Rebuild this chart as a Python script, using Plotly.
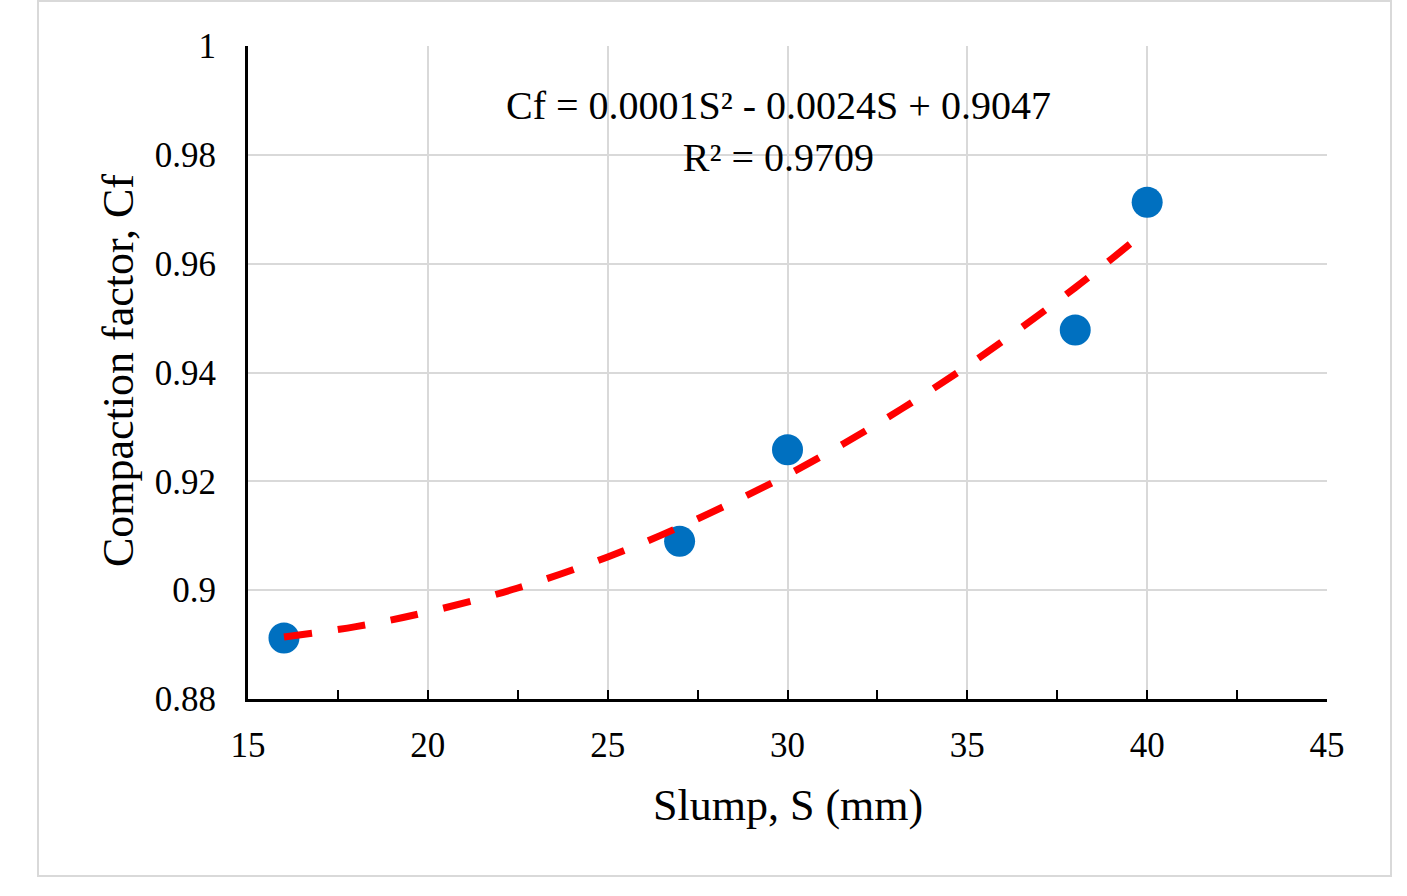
import plotly.graph_objects as go

slump = [16, 27, 30, 38, 40]
cf = [0.8912, 0.9090, 0.9258, 0.9478, 0.9713]

# Trendline values
trend_s = [16, 18, 20, 22.5, 25, 27, 30, 32.5, 35, 38, 40]
trend_cf = [0.8914, 0.8933, 0.8960, 0.9004, 0.9061, 0.9116, 0.9212, 0.9306, 0.9412, 0.9556, 0.9662]

x_ticks = [15, 20, 25, 30, 35, 40, 45]
y_ticks = [0.88, 0.90, 0.92, 0.94, 0.96, 0.98, 1.00]
y_tick_text = ["0.88", "0.9", "0.92", "0.94", "0.96", "0.98", "1"]

FONT = "Liberation Serif, Times New Roman, serif"

fig = go.Figure()
fig.add_trace(go.Scatter(
    x=slump, y=cf, mode="markers",
    marker=dict(size=31, color="#0070C0", line=dict(width=0)),
    showlegend=False, cliponaxis=False,
))
fig.add_trace(go.Scatter(
    x=trend_s, y=trend_cf, mode="lines", line_shape="spline",
    line=dict(color="#FF0000", width=7, dash="28px,26px"),
    showlegend=False,
))

fig.update_layout(
    width=1407, height=896,
    margin=dict(l=248, r=80, t=46, b=197),
    paper_bgcolor="white", plot_bgcolor="white",
    font=dict(family=FONT, color="black", size=35),
    xaxis=dict(
        range=[15, 45], tickvals=x_ticks, ticktext=[str(v) for v in x_ticks],
        showgrid=True, gridcolor="#d9d9d9", gridwidth=2,
        showline=True, linecolor="black", linewidth=3,
        ticks="inside", ticklen=9, tickwidth=2, tickcolor="black",
        minor=dict(ticks="inside", ticklen=9, tickwidth=2, tickcolor="black",
                   tickvals=[17.5, 22.5, 27.5, 32.5, 37.5, 42.5], showgrid=False),
        ticklabelstandoff=13, zeroline=False,
        tickfont=dict(family=FONT, size=35),
    ),
    yaxis=dict(
        range=[0.88, 1.0], tickvals=y_ticks, ticktext=y_tick_text,
        showgrid=True, gridcolor="#d9d9d9", gridwidth=2,
        showline=True, linecolor="black", linewidth=3,
        ticks="", ticklabelstandoff=22, zeroline=False,
        tickfont=dict(family=FONT, size=35),
    ),
    annotations=[
        dict(text="Cf = 0.0001S² - 0.0024S + 0.9047<br>R² = 0.9709",
             xref="paper", yref="paper", x=(778 - 248) / 1079, y=(699 - 131) / 653,
             xanchor="center", yanchor="middle", showarrow=False,
             font=dict(family=FONT, size=40), align="center"),
        dict(text="Slump, S (mm)", xref="paper", yref="paper",
             x=0.5, y=(699 - 805) / 653, xanchor="center", yanchor="middle",
             showarrow=False, font=dict(family=FONT, size=44)),
        dict(text="Compaction factor, Cf", xref="paper", yref="paper",
             x=(118 - 248) / 1079, y=(699 - 371) / 653, xanchor="center", yanchor="middle",
             textangle=-90, showarrow=False, font=dict(family=FONT, size=44)),
    ],
    shapes=[
        dict(type="rect", xref="paper", yref="paper",
             x0=(38 - 248) / 1079, x1=(1391 - 248) / 1079,
             y0=(699 - 876) / 653, y1=(699 - 1) / 653,
             line=dict(color="#d9d9d9", width=2), fillcolor="rgba(0,0,0,0)", layer="below"),
    ],
)

fig.write_html("out.html")
